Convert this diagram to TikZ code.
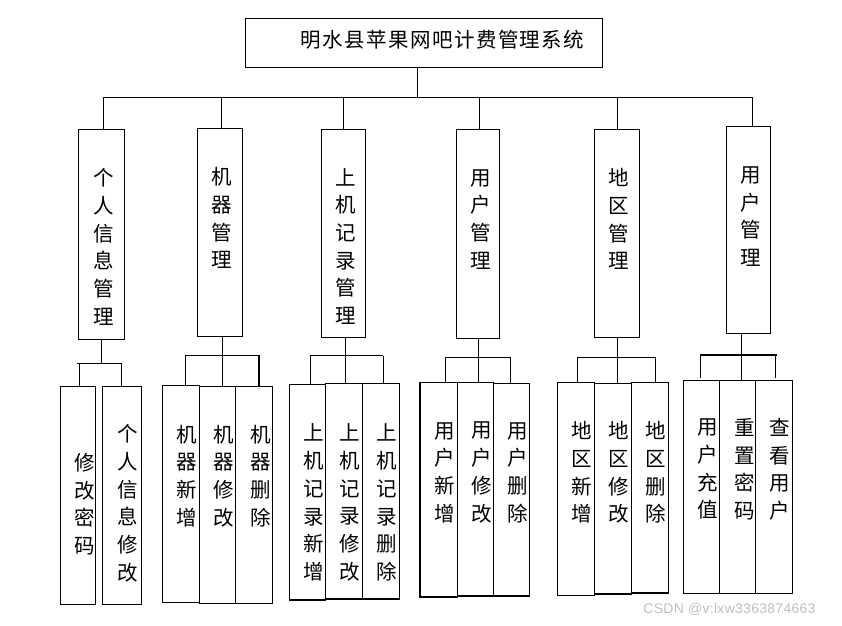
\documentclass[tikz,border=0pt]{standalone}
\usepackage{fontspec}
\newfontfamily\cjk{Noto Sans CJK SC}
\newfontfamily\cjktitle[LetterSpace=7]{Noto Sans CJK SC}
\newfontfamily\wmfont[LetterSpace=2]{Liberation Sans}
\newcommand{\bx}[5]{\node[box, minimum width={(#4-#2)*1pt}, minimum height={(#5-#3)*1pt}] (#1) at ({(#2+#4)/2},{(#3+#5)/2}) {};}
\begin{document}
\begin{tikzpicture}[x=1pt,y=-1pt,
  box/.style={draw, line width=1.2pt, inner sep=0pt, outer sep=0pt},
  vt/.style={align=center, inner sep=0pt, font=\cjk\fontsize{20.5}{27.7}\selectfont},
  conn/.style={line width=1.2pt}]
\useasboundingbox (0,0) rectangle (842,625);
% boxes
\bx{title}{245.3}{18.3}{602.3}{67.3}
\bx{m1}{78.3}{129.3}{124.3}{339.3}
\bx{m2}{197.3}{128.3}{242.3}{336.7}
\bx{m3}{321.7}{129.3}{365.3}{337.3}
\bx{m4}{456.3}{129.3}{499.3}{338.3}
\bx{m5}{594.3}{129.3}{639.3}{337.3}
\bx{m6}{726.3}{126.3}{770.3}{333.3}
\bx{c11}{60.7}{386.3}{95.3}{604.3}
\bx{c12}{102.3}{386.3}{141.3}{604.3}
\bx{c21}{162.7}{385.3}{199.7}{602.3}
\bx{c22}{199.7}{386.3}{235.3}{603.3}
\bx{c23}{235.3}{386.3}{272.3}{603.3}
\bx{c31}{289.3}{384.3}{325.7}{600}
\bx{c32}{325.7}{383.3}{362.3}{599}
\bx{c33}{362.3}{383.3}{399.3}{599}
\bx{c41}{420}{382.3}{457.3}{597}
\bx{c42}{457.3}{382.3}{493.3}{596}
\bx{c43}{493.3}{383.3}{529.3}{596}
\bx{c51}{557.3}{382.3}{594.3}{595.3}
\bx{c52}{594.3}{383.3}{631.3}{594}
\bx{c53}{631.3}{382.3}{668.3}{593}
\bx{c61}{683.3}{380.7}{719.3}{593.3}
\bx{c62}{719.3}{380.7}{755.3}{593.3}
\bx{c63}{755.3}{380.7}{792.3}{593.3}
% texts
\node[inner sep=0pt, font=\cjktitle\fontsize{20.5}{24}\selectfont] (title-t) at (442.5,39.3) {明水县苹果网吧计费管理系统};
\node[vt] (m1-t) at (104,247) {个\\人\\信\\息\\管\\理};
\node[vt] (m2-t) at (222,218.3) {机\\器\\管\\理};
\node[vt] (m3-t) at (346,246.3) {上\\机\\记\\录\\管\\理};
\node[vt] (m4-t) at (480.7,219.3) {用\\户\\管\\理};
\node[vt] (m5-t) at (619,219.3) {地\\区\\管\\理};
\node[vt] (m6-t) at (750.7,216.7) {用\\户\\管\\理};
\node[vt] (c11-t) at (84.3,504) {修\\改\\密\\码};
\node[vt] (c12-t) at (127.3,503.3) {个\\人\\信\\息\\修\\改};
\node[vt] (c21-t) at (186.7,476) {机\\器\\新\\增};
\node[vt] (c22-t) at (224,476) {机\\器\\修\\改};
\node[vt] (c23-t) at (260.7,476) {机\\器\\删\\除};
\node[vt] (c31-t) at (313.3,502.5) {上\\机\\记\\录\\新\\增};
\node[vt] (c32-t) at (350,502.5) {上\\机\\记\\录\\修\\改};
\node[vt] (c33-t) at (386.7,502.5) {上\\机\\记\\录\\删\\除};
\node[vt] (c41-t) at (445,472.5) {用\\户\\新\\增};
\node[vt] (c42-t) at (481.7,472.5) {用\\户\\修\\改};
\node[vt] (c43-t) at (517.3,472.5) {用\\户\\删\\除};
\node[vt] (c51-t) at (581.7,472.5) {地\\区\\新\\增};
\node[vt] (c52-t) at (619,472.5) {地\\区\\修\\改};
\node[vt] (c53-t) at (655.7,472.5) {地\\区\\删\\除};
\node[vt] (c61-t) at (707.3,469.2) {用\\户\\充\\值};
\node[vt] (c62-t) at (745,469.2) {重\\置\\密\\码};
\node[vt] (c63-t) at (780,469.2) {查\\看\\用\\户};
% top bus
\coordinate (bt) at (417.7,97.3);
\coordinate (b1) at (103.3,97.3);
\coordinate (b2) at (221.7,97.3);
\coordinate (b3) at (343.3,97.3);
\coordinate (b4) at (479.3,97.3);
\coordinate (b5) at (617.3,97.3);
\coordinate (b6) at (752.3,97.3);
\draw[conn] (title.south -| bt) -- (bt);
\draw[conn] (b1) -- (b6);
\foreach \i in {1,...,6} \draw[conn] (b\i) -- (m\i.north -| b\i);
% group 1
\coordinate (g1m) at (101.7,363.3);
\coordinate (g1l) at (77.3,363.3);
\coordinate (g1a) at (79.3,363.3);
\coordinate (g1r) at (121.7,363.3);
\draw[conn] (m1.south -| g1m) -- (g1m);
\draw[conn] (g1l) -- (g1r);
\draw[conn] (g1a) -- (c11.north -| g1a);
\draw[conn] (g1r) -- (c12.north -| g1r);
% group 2
\coordinate (g2l) at (185.7,355.3);
\coordinate (g2m) at (222.3,355.3);
\coordinate (g2r) at (259,355.3);
\draw[conn] (m2.south -| g2m) -- (c22.north -| g2m);
\draw[conn] (g2l) -- (g2r);
\draw[conn] (g2l) -- (c21.north -| g2l);
\draw[conn] (g2r) -- (c23.north -| g2r);
% group 3
\coordinate (g3l) at (310.3,355.7);
\coordinate (g3m) at (345.3,355.7);
\coordinate (g3r) at (383.3,355.7);
\draw[conn] (m3.south -| g3m) -- (c32.north -| g3m);
\draw[conn] (g3l) -- (g3r);
\draw[conn] (g3l) -- (c31.north -| g3l);
\draw[conn] (g3r) -- (c33.north -| g3r);
% group 4
\coordinate (g4l) at (445.7,357.3);
\coordinate (g4m) at (478.3,357.3);
\coordinate (g4r) at (510.3,357.3);
\draw[conn] (m4.south -| g4m) -- (c42.north -| g4m);
\draw[conn] (g4l) -- (g4r);
\draw[conn] (g4l) -- (c41.north -| g4l);
\draw[conn] (g4r) -- (c43.north -| g4r);
% group 5
\coordinate (g5l) at (577.7,357.3);
\coordinate (g5m) at (617.3,357.3);
\coordinate (g5r) at (655.7,357.3);
\draw[conn] (m5.south -| g5m) -- (c52.north -| g5m);
\draw[conn] (g5l) -- (g5r);
\draw[conn] (g5l) -- (c51.north -| g5l);
\draw[conn] (g5r) -- (c53.north -| g5r);
% group 6
\coordinate (g6l) at (700,355);
\coordinate (g6a) at (700.7,355);
\coordinate (g6m) at (741.3,355);
\coordinate (g6r) at (776.7,355);
\coordinate (g6b) at (775.7,355);
\coordinate (g6ae) at (700.7,378.3);
\coordinate (g6be) at (775.7,378.3);
\draw[conn] (m6.south -| g6m) -- (c62.north -| g6m);
\draw[conn] (g6l) -- (g6r);
\draw[conn] (g6a) -- (g6ae);
\draw[conn] (g6b) -- (g6be);
% watermark
\node[inner sep=0pt, text=black!25, font=\wmfont\fontsize{14}{16}\selectfont] (wm) at (729.5,609.3) {CSDN @v:lxw3363874663};
\end{tikzpicture}
\end{document}
